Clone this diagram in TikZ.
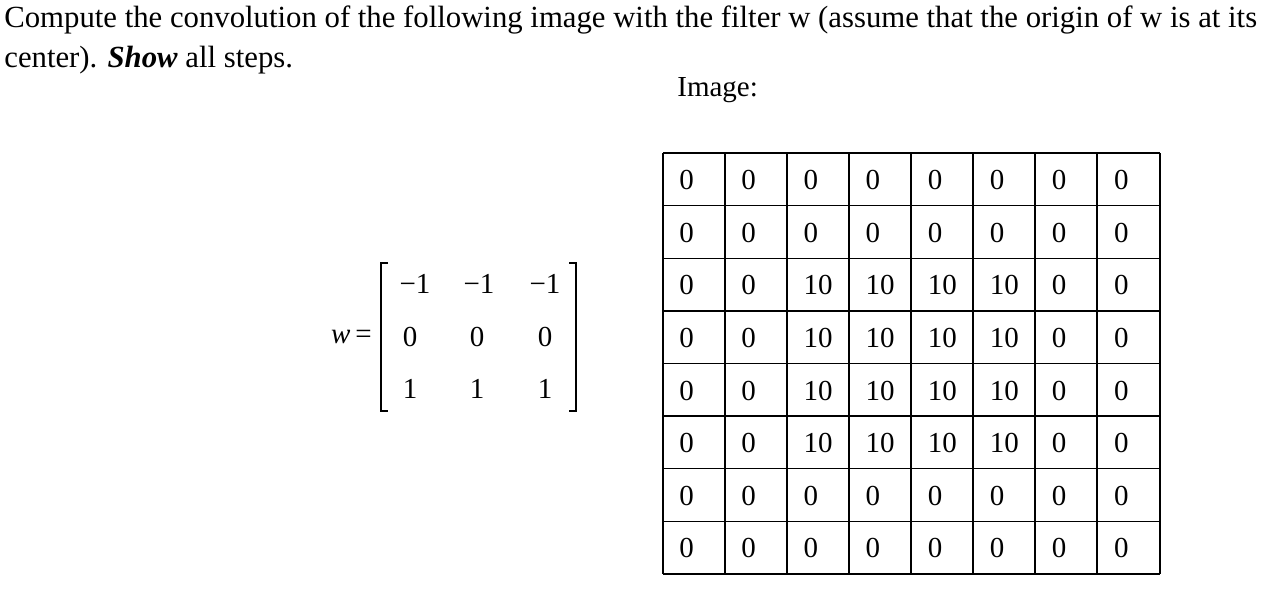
\documentclass[tikz,border=0pt]{standalone}
\usepackage{fontspec}
\setmainfont{Liberation Serif}
\begin{document}
\begin{tikzpicture}[x=0.02cm,y=-0.02cm,
  txt/.style={font=\fontsize{16.5}{20}\selectfont,inner sep=0pt},
  cell/.style={txt,anchor=west},
  gridline/.style={line width=0.8pt}]
\useasboundingbox (0,0) rectangle (1270,610);
\node[txt,font=\fontsize{17.5}{20}\selectfont,anchor=north west,align=left] (q) at (4,5) {Compute the convolution of the following image with the filter w (assume that the origin of w is at its\\[3pt]center). \textbf{\textit{Show}} all steps.};
\node[txt,anchor=west] (img) at (677,90) {Image:};
% grid
\foreach \i in {0,...,8} {
  \pgfmathsetmacro{\yy}{153+52.625*\i}
  \draw[gridline] (663,\yy) -- (1160,\yy);
}
\foreach \x in {663,725,787,849,911,973,1035,1097,1160} {
  \draw[gridline] (\x,153) -- (\x,574);
}
\foreach \r [count=\ri from 0] in {
 {0,0,0,0,0,0,0,0},{0,0,0,0,0,0,0,0},{0,0,10,10,10,10,0,0},{0,0,10,10,10,10,0,0},
 {0,0,10,10,10,10,0,0},{0,0,10,10,10,10,0,0},{0,0,0,0,0,0,0,0},{0,0,0,0,0,0,0,0}} {
  \foreach \v [count=\ci from 0] in \r {
    \node[cell] (c\ri\ci) at ({663+62.1*\ci+16},{153+52.625*\ri+27}) {\v};
  }
}
% matrix
\node[txt,anchor=east] (w) at (372,337) {\textit{w}\,=};
\draw[line width=0.8pt] (388,263) -- (381,263) -- (381,411) -- (388,411);
\draw[line width=0.8pt] (569,263) -- (576,263) -- (576,411) -- (569,411);
\foreach \x [count=\k] in {415,479,545} \node[txt] (m1\k) at (\x,284) {−1};
\foreach \x [count=\k] in {410,477,545} \node[txt] (m2\k) at (\x,337) {0};
\foreach \x [count=\k] in {410,477,545} \node[txt] (m3\k) at (\x,389) {1};
\end{tikzpicture}
\end{document}
